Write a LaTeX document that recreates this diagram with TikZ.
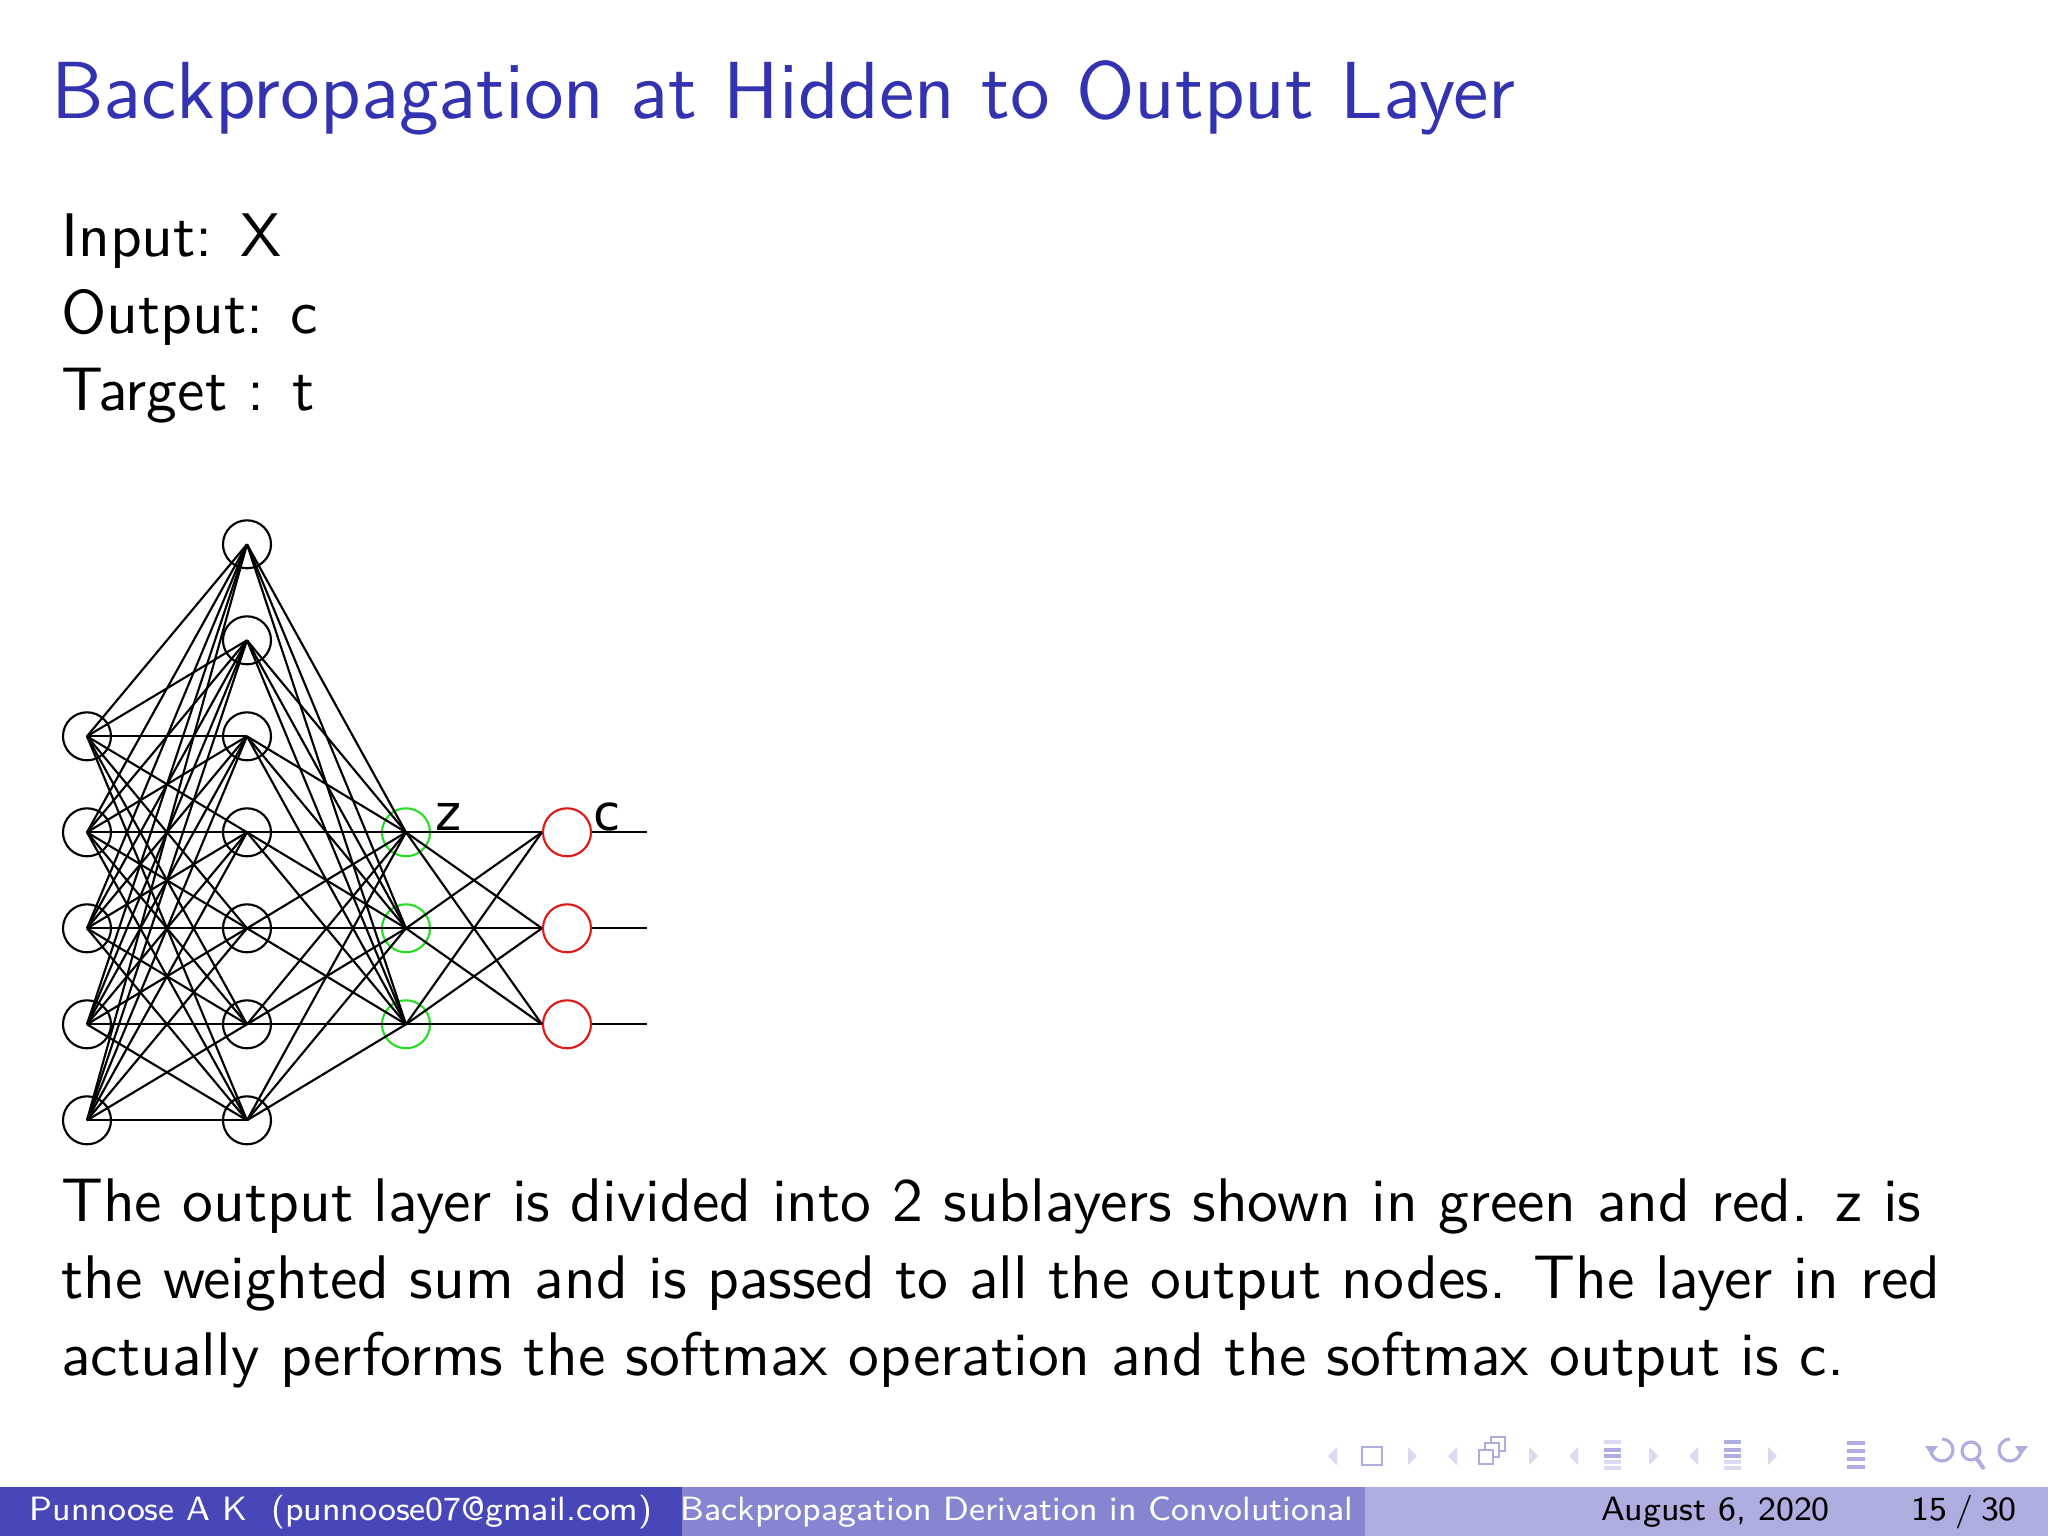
\documentclass[tikz,border=0pt]{standalone}
\usepackage{fontspec}
\newfontfamily\labelfont{DejaVu Sans}
\definecolor{slideblue}{rgb}{0.2,0.2,0.7}
\definecolor{zgreen}{RGB}{40,220,40}
\definecolor{cred}{RGB}{225,25,25}
\colorlet{authorbg}{slideblue!90}
\colorlet{titlebg}{slideblue!60}
\colorlet{datebg}{slideblue!40}
\colorlet{navlight}{slideblue!18}
\colorlet{navmid}{slideblue!40}

\begin{document}
\begin{tikzpicture}[x=0.0625mm,y=-0.0625mm,
  neuron/.style={circle,draw,line width=0.38pt,minimum size=3mm,inner sep=0pt},
  sumnode/.style={neuron,draw=zgreen},
  outnode/.style={neuron,draw=cred},
  wire/.style={line width=0.38pt},
  lbl/.style={anchor=base west,inner sep=0pt,font=\labelfont\fontsize{8.8}{10}\selectfont},
  bodytext/.style={anchor=base west,inner sep=0pt,font=\sffamily\fontsize{10.95}{13.6}\selectfont},
  foot/.style={anchor=base,inner sep=0pt,font=\sffamily\fontsize{6}{7}\selectfont},
  bar/.style={line width=0.55pt}]
  \useasboundingbox (0,0) rectangle (2048,1536);
  \fill[white] (0,0) rectangle (2048,1536);
  % frame title and header lines
  \node[anchor=base west,inner sep=0pt,text=slideblue,
    font=\sffamily\fontsize{14.4}{17}\selectfont] (title) at (50,118.3)
    {Backpropagation at Hidden to Output Layer};
  \node[bodytext] (inp) at (60,256.7) {Input: X};
  \node[bodytext] (outp) at (60,333.3) {Output: c};
  \node[bodytext] (targ) at (60,410) {Target : t};
  % layers
  \foreach \k in {1,...,5}
    \node[neuron] (i\k) at (87,{640.3+96*\k}) {};
  \foreach \k in {1,...,7}
    \node[neuron] (h\k) at (247,{448.3+96*\k}) {};
  \foreach \k in {1,...,3} {
    \node[sumnode] (g\k) at (406,{736.3+96*\k}) {};
    \node[outnode] (r\k) at (567,{736.3+96*\k}) {};
    \coordinate (o\k) at (647,{736.3+96*\k});
  }
  % fully connected wires
  \foreach \a in {1,...,5}
    \foreach \b in {1,...,7}
      \draw[wire] (i\a.center) -- (h\b.center);
  \foreach \a in {1,...,7}
    \foreach \b in {1,...,3}
      \draw[wire] (h\a.center) -- (g\b.center);
  \foreach \a in {1,...,3} {
    \foreach \b in {1,...,3}
      \draw[wire] (g\a.center) -- (r\b.west);
    \draw[wire] (r\a.east) -- (o\a);
  }
  \node[lbl] (zlab) at (434,830) {z};
  \node[lbl] (clab) at (592,830) {c};
  % explanation
  \node[bodytext] (par1) at (60,1221.7)
    {The output layer is divided into 2 sublayers shown in green and red. z is};
  \node[bodytext] (par2) at (60,1298.3)
    {the weighted sum and is passed to all the output nodes. The layer in red};
  \node[bodytext] (par3) at (60,1375)
    {actually performs the softmax operation and the softmax output is c.};
  % navigation symbols
  \foreach \x in {1333,1453,1574,1694}
    \fill[navlight] (\x-5,1456) -- (\x+4,1447) -- (\x+4,1465) -- cycle;
  \foreach \x in {1412,1533,1653,1772}
    \fill[navlight] (\x+5,1456) -- (\x-4,1447) -- (\x-4,1465) -- cycle;
  \draw[navmid,line width=0.45pt] (1362,1447) rectangle (1382,1465);
  \draw[navmid,line width=0.45pt,fill=white] (1491,1437) rectangle (1505,1451);
  \draw[navmid,line width=0.45pt,fill=white] (1485,1443) rectangle (1499,1457);
  \draw[navmid,line width=0.45pt,fill=white] (1479,1450) rectangle (1493,1464);
  \foreach \y/\c in {1442/navlight,1450/navmid,1456/navmid,1462/navlight,1468/navlight}
    \draw[bar,\c] (1604,\y) -- (1621,\y);
  \foreach \y/\c in {1442/navmid,1450/navmid,1456/navmid,1462/navlight,1468/navlight}
    \draw[bar,\c] (1724,\y) -- (1741,\y);
  \foreach \y in {1443,1451,1459,1467}
    \draw[bar,navmid] (1847,\y) -- (1865,\y);
  \draw[navmid,line width=0.55pt] (1931,1450) arc (180:-90:11);
  \fill[navmid] (1925,1446) -- (1938,1446) -- (1931,1455) -- cycle;
  \draw[navmid,line width=0.55pt] (1971,1451) circle (9);
  \draw[navmid,line width=0.7pt] (1977,1459) -- (1984,1469);
  \draw[navmid,line width=0.55pt] (2021,1450) arc (0:270:11);
  \fill[navmid] (2015,1446) -- (2028,1446) -- (2021,1455) -- cycle;
  % footline
  \fill[authorbg] (0,1486.7) rectangle (681.8,1536);
  \fill[titlebg] (681.8,1486.7) rectangle (1365,1536);
  \fill[datebg] (1365,1486.7) rectangle (2048,1536);
  \node[foot,text=white] (author) at (341,1520)
    {Punnoose A K~~(punnoose07@gmail.com)};
  \node[foot,text=white] (short) at (1017,1520)
    {Backpropagation Derivation in Convolutional};
  \node[foot,anchor=base east] (date) at (1831,1520) {August 6, 2020};
  \node[foot,anchor=base east] (page) at (2018,1520)
    {15\hspace{1.4pt}/\hspace{1.4pt}30};
\end{tikzpicture}
\end{document}
